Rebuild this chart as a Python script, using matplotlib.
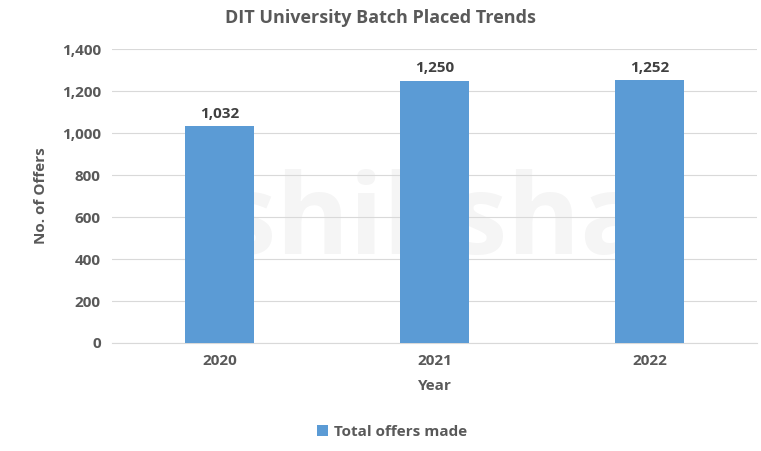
import matplotlib
matplotlib.use("Agg")
import matplotlib.pyplot as plt

years = ["2020", "2021", "2022"]
offers = [1032, 1250, 1252]
series_name = "Total offers made"
yticks = [0, 200, 400, 600, 800, 1000, 1200, 1400]

plt.rcParams['font.family'] = ['Open Sans', 'DejaVu Sans']
gray = "#595959"
fig = plt.figure(figsize=(7.61, 4.51), dpi=100)
ax = fig.add_axes([0.147, 0.2395, 0.848, 0.6515])
ax.text(0.5, 0.4, "shiksha", transform=ax.transAxes, ha="center", va="center", fontsize=80,
        fontweight="bold", color="#000000", alpha=0.04, zorder=1)
x = list(range(len(years)))
bars = ax.bar(x, offers, width=0.32, color="#5B9BD5", label=series_name, zorder=3)
for xi, v in zip(x, offers):
    ax.text(xi, v + 25, f"{v:,}", ha="center", va="bottom", fontsize=11, fontweight="bold", color="#404040")
ax.set_xlim(-0.5, 2.5)
ax.set_ylim(0, 1400)
ax.set_yticks(yticks)
ax.set_yticklabels([f"{t:,}" for t in yticks])
ax.set_xticks(x)
ax.set_xticklabels(years)
ax.tick_params(axis="both", length=0, labelsize=11, labelcolor=gray, pad=8)
for lab in ax.get_xticklabels() + ax.get_yticklabels():
    lab.set_fontweight("bold")
ax.grid(axis="y", color="#D9D9D9", linewidth=0.8, zorder=0)
for s in ["top", "right", "left"]:
    ax.spines[s].set_visible(False)
ax.spines["bottom"].set_color("#D9D9D9")
ax.set_xlabel("Year", fontsize=11, fontweight="bold", color=gray, labelpad=8)
ax.set_ylabel("No. of Offers", fontsize=11, fontweight="bold", color=gray, labelpad=10)
fig.text(0.5, 0.96, "DIT University Batch Placed Trends", ha="center", va="center",
         fontsize=13, fontweight="bold", color=gray)
fig.legend(handles=[bars], labels=[series_name], loc="center", bbox_to_anchor=(0.515, 0.043),
           frameon=False, handlelength=0.7, handleheight=0.7, handletextpad=0.4, labelcolor=gray,
           prop={'weight': 'bold', 'size': 11})
fig.savefig("out.png", dpi=100)
